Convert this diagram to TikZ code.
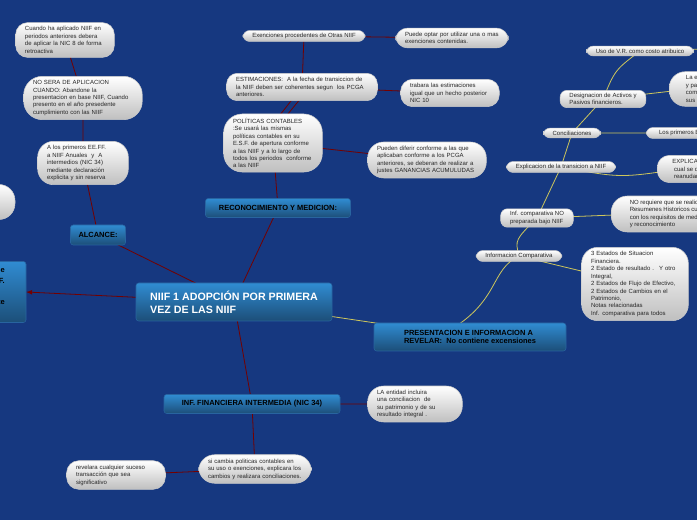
\documentclass[tikz,border=0pt]{standalone}
\usepackage{fontspec}
\setmainfont{Liberation Sans}
\hyphenpenalty=10000
\exhyphenpenalty=10000
\definecolor{bg}{RGB}{22,56,128}
\definecolor{htop}{RGB}{48,140,210}
\definecolor{hbot}{RGB}{28,78,120}
\definecolor{hbd}{RGB}{40,100,160}
\begin{document}
\begin{tikzpicture}[x=0.75pt,y=-0.75pt,
  leaf/.style={draw=gray!40,rounded corners=9pt,top color=white,bottom color=gray!50,
    font=\fontsize{4.5}{5.6}\selectfont,align=left,inner xsep=7pt,inner ysep=3pt,text=black!85},
  pill/.style={leaf,rounded corners=5pt,inner ysep=2pt},
  head/.style={draw=hbd,rounded corners=2pt,top color=htop,bottom color=hbot,
    font=\bfseries\fontsize{5.6}{6.6}\selectfont,text=black,align=left,inner sep=3pt},
  red/.style={draw=red!45!black,line width=0.6pt},
  ol/.style={draw=yellow!55!gray,line width=0.6pt}]
\useasboundingbox (0,0) rectangle (697,520);
\fill[bg] (0,0) rectangle (697,520);
\clip (0,0) rectangle (697,520);
% connectors
\coordinate (usoR) at (705,49);
\coordinate (m) at (234,302);
\coordinate (a) at (98,235);
\coordinate (l) at (26,292);
\coordinate (r) at (278,208);
\coordinate (p) at (273,143);
\coordinate (e) at (302,87);
\coordinate (x) at (304,36);
\coordinate (i) at (252,404);
\coordinate (s) at (255,469);
\path[red,-latex] (m) -- (a);
\path[red,-latex] (m) -- (l);
\path[red] (a) -- (83,163) -- (83,98) -- (65,40);
\path[red] (m) -- (r) -- (p) (276,120) -- (e) (283,120) -- (310,87);
\path[red] (e) -- (x) -- (452,38) (e) -- (450,93) (p) -- (427,160);
\path[red] (m) -- (i) -- (415,404) (i) -- (s) -- (116,475);
\path[ol] (m) -- (470,337);
\path[ol] (450,330) .. controls (500,300) and (490,270) .. (519,256);
\path[ol] (519,256) -- (635,284) (519,256) .. controls (515,240) .. (537,218) -- (640,214) (537,218) -- (561,167)
  (561,167) .. controls (620,178) .. (680,169) (561,167) -- (572,133) -- (680,133) (572,133) -- (603,99)
  -- (690,89) (603,99) .. controls (615,70) .. (640,51) -- (usoR);
% nodes
\node[leaf,text width=80pt*0.75] (c1) at (65,40) {Cuando ha aplicado NIIF en periodos anteriores debera de aplicar la NIC 8 de forma retroactiva};
\node[leaf,text width=100pt*0.75,rounded corners=14pt] (c2) at (83,98) {NO SERA DE APLICACION CUANDO: Abandone la presentacion en base NIIF, Cuando presento en el año presedente cumplimiento con las NIIF};
\node[leaf,text width=72pt*0.75,rounded corners=12pt] (c3) at (83,163) {A los primeros EE.FF. a NIIF Anuales \ y \ A intermedios (NIC 34) mediante declaración explicita y sin reserva};
\node[head,minimum width=55pt*0.75,minimum height=20pt*0.75,align=center] (alc) at (98,235) {ALCANCE:};
\node[leaf,minimum width=40pt*0.75,minimum height=35pt*0.75,rounded corners=12pt] (lov) at (-5,202) {};
\node[head,minimum width=60pt*0.75,minimum height=61pt*0.75,align=right,font=\bfseries\fontsize{5.6}{8}\selectfont] (lft) at (-4,292) {rse\\E.FF.\\ \\te\\};
\node[head,minimum width=196pt*0.75,minimum height=38pt*0.75,text=white,font=\bfseries\fontsize{8}{9.5}\selectfont,inner xsep=8pt] (main) at (234,302) {NIIF 1 ADOPCIÓN POR PRIMERA\\VEZ DE LAS NIIF\hspace{40pt}};
\node[head,minimum width=145pt*0.75,minimum height=19pt*0.75,align=center] (rec) at (278,208) {RECONOCIMIENTO Y MEDICION:};
\node[leaf,text width=80pt*0.75,rounded corners=14pt,minimum height=56pt*0.75] (pol) at (273,143) {POLÍTICAS CONTABLES :Se usará las mismas políticas contables en su E.S.F. de apertura conforme a las NIIF y a lo largo de todos los periodos \ conforme a las NIIF};
\node[leaf,text width=132pt*0.75,rounded corners=8pt] (est) at (302,87) {ESTIMACIONES: \ A la fecha de transiccion de la NIIF deben ser coherentes segun \ los PCGA anteriores.};
\node[pill] (exc) at (304,36) {Exenciones procedentes de Otras NIIF};
\node[leaf,text width=94pt*0.75] (puede) at (452,38) {Puede optar por utilizar una o mas exenciones contenidas.};
\node[leaf,text width=80pt*0.75] (trab) at (450,93) {trabara las estimaciones igual que un hecho posterior NIC 10};
\node[leaf,text width=100pt*0.75,rounded corners=12pt] (pued2) at (427,160) {Pueden diferir conforme a las que aplicaban conforme a los PCGA anteriores, se deberan de realizar a justes GANANCIAS ACUMULUDAS};
\node[head,minimum width=192pt*0.75,minimum height=28pt*0.75] (pres) at (470,337) {PRESENTACION E INFORMACION A\\REVELAR: \ No contiene excensiones\hspace{30pt}};
\node[pill] (icomp) at (519,256) {Informacion Comparativa};
\node[leaf,text width=88pt*0.75,rounded corners=12pt] (tres) at (635,284) {3 Estados de Situacion Financiera.\\2 Estado de resultado . \ Y otro Integral,\\2 Estados de Flujo de Efectivo,\\2 Estados de Cambios en el Patrimonio,\\Notas relacionadas\\Inf. comparativa para todos};
\node[pill] (intc) at (537,218) {Inf. comparativa NO\\preparada bajo NIIF};
\node[leaf,anchor=west,rounded corners=12pt,minimum width=110pt*0.75] (noreq) at (611,214) {NO requiere que se realice\\Resumenes Historicos cum\\con los requisitos de medic\\y reconocimiento};
\node[pill] (expl) at (561,167) {Explicacion de la transicion a NIIF};
\node[leaf,anchor=west,minimum width=60pt*0.75] (explc) at (657,169) {EXPLICAR\\\ cual se de\\\ reanudar};
\node[pill] (conc) at (572,133) {Conciliaciones};
\node[pill,anchor=west,minimum width=70pt*0.75] (prim) at (646,133) {Los primeros EE};
\node[pill] (desig) at (603,99) {Designacion de Activos y\\Pasivos financieros.};
\node[leaf,anchor=west,rounded corners=12pt,minimum width=50pt*0.75] (laent) at (669,89) {La ent\\y pasi\\como\\sus in};
\node[pill] (uso) at (640,51) {Uso de V.R. como costo atribuico};
\node[head,minimum width=176pt*0.75,minimum height=19pt*0.75,align=center] (i34) at (252,404) {INF. FINANCIERA INTERMEDIA (NIC 34)};
\node[leaf,text width=76pt*0.75,rounded corners=12pt] (lae) at (415,404) {LA entidad incluira una conciliacion \ de su patrimonio y de su resultado integral .};
\node[leaf,text width=94pt*0.75,rounded corners=12pt] (sic) at (255,469) {si cambia politicas contables en su uso o exenciones, explicara los cambios y realizara conciliaciones.};
\node[leaf,text width=80pt*0.75] (rev) at (116,475) {revelara cualquier suceso transacción que sea significativo};
\end{tikzpicture}
\end{document}
